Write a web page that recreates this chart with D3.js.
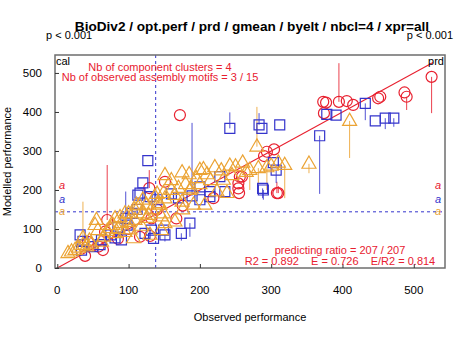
<!DOCTYPE html>
<html>
<head>
<meta charset="utf-8">
<script src="https://cdn.jsdelivr.net/npm/d3@7/dist/d3.min.js"></script>
<style>
  html, body { margin: 0; padding: 0; background: #fff; }
  svg { display: block; font-family: "Liberation Sans", Arial, Helvetica, sans-serif; }
  .pre { white-space: pre; }
</style>
</head>
<body>
<svg id="chart" width="474" height="338"></svg>
<script>
// ---- data: observed, modelled and end of the vertical segment per assembly ----
// cluster 1 (red circles)
const redObs = [525, 487, 490, 453, 450, 415, 406, 395, 373, 377, 374, 172, 294, 304, 290, 259, 308, 254, 255, 254, 256, 151, 219, 167, 129, 70, 130, 132, 43, 58, 39, 67, 116, 64, 310, 100, 85, 140, 176];
const redPrd = [490, 450, 439, 439, 435, 418, 428, 426, 426, 424, 397, 392, 298, 304, 287, 234, 192, 204, 192, 217, 234, 221, 179, 127, 205, 123, 82, 127, 67, 55, 31, 93, 80, 46, 192, 100, 75, 150, 160];
const redEnd = [397, 450, 405, 439, 435, 418, 428, 525, 426, 424, 397, 392, 298, 304, 287, 234, 221, 204, 192, 217, 234, 221, 179, 127, 251, 264, 82, 127, 67, 55, 31, 93, 80, 46, 210, 100, 75, 150, 160];

// cluster 2 (blue squares)
const blueObs = [432, 446, 460, 472, 378, 391, 368, 189, 242, 283, 287, 312, 303, 307, 288, 228, 200, 235, 214, 289, 214, 200, 186, 151, 174, 135, 127, 96, 116, 130, 149, 132, 90, 62, 34, 123, 120, 113, 81, 36, 32, 105, 112, 98, 85, 140, 160, 170, 60, 75, 50];
const bluePrd = [422, 377, 384, 384, 394, 392, 339, 185, 358, 367, 358, 367, 270, 251, 204, 234, 208, 196, 196, 200, 183, 175, 115, 85, 89, 76, 275, 127, 192, 183, 97, 97, 72, 72, 46, 89, 218, 187, 77, 68, 85, 140, 150, 110, 105, 175, 190, 180, 60, 85, 55];
const blueEnd = [379, 377, 356, 362, 394, 392, 190, 372, 399, 397, 358, 367, 270, 218, 179, 234, 208, 196, 196, 175, 183, 175, 80, 68, 70, 76, 275, 196, 192, 183, 97, 97, 72, 72, 46, 89, 218, 187, 77, 68, 85, 140, 150, 110, 105, 175, 190, 180, 60, 85, 55];

// cluster 3 (orange triangles)
const orangeObs = [410, 353, 280, 319, 270, 282, 294, 242, 221, 205, 200, 245, 233, 188, 186, 165, 224, 238, 191, 207, 149, 36, 53, 57, 109, 109, 90, 74, 81, 102, 107, 62, 36, 25, 15, 41, 128, 125, 142, 151, 151, 146, 151, 130, 81, 165, 149, 144, 146, 126, 111, 55, 137, 176, 95,
  20, 30, 45, 48, 65, 70, 78, 85, 95, 100, 118, 120, 100, 88, 115, 132, 160, 170, 175, 180, 195, 210, 215, 250, 260, 175, 160, 140, 120, 200, 185, 230, 265, 300, 310];
const orangePrd = [377, 267, 311, 264, 251, 256, 258, 262, 258, 253, 251, 238, 226, 204, 200, 187, 196, 192, 162, 162, 192, 77, 110, 97, 149, 123, 115, 102, 89, 99, 76, 67, 59, 46, 38, 55, 136, 162, 166, 178, 238, 132, 115, 85, 127, 119, 140, 162, 97, 128, 162, 123, 183, 150, 140,
  42, 52, 70, 62, 80, 95, 110, 100, 92, 118, 108, 140, 140, 130, 160, 150, 200, 205, 170, 215, 230, 240, 225, 260, 270, 245, 225, 190, 175, 215, 240, 250, 246, 262, 270];
const orangeEnd = [282, 243, 413, 179, 200, 200, 200, 262, 258, 253, 251, 238, 226, 204, 200, 187, 196, 192, 162, 162, 192, 170, 110, 97, 149, 123, 115, 102, 89, 99, 76, 67, 59, 46, 38, 55, 136, 162, 166, 178, 238, 132, 115, 85, 127, 119, 140, 162, 97, 128, 162, 123, 183, 150, 140,
  42, 52, 70, 62, 80, 95, 110, 100, 92, 118, 108, 140, 140, 130, 160, 150, 200, 205, 170, 215, 230, 240, 225, 260, 270, 245, 225, 190, 175, 215, 240, 250, 246, 262, 270];

// cluster letters, drawn at each cluster's level on both sides
const letterLevels = [213, 177, 146];
const letterText = ["a", "a", "a"];

const xTicks = [0, 100, 200, 300, 400, 500];
const yTicks = [0, 100, 200, 300, 400, 500];
const meanObs = 138;
const meanPrd = 144;

const titleText = "BioDiv2 / opt.perf / prd / gmean / byelt / nbcl=4 / xpr=all";
const topNotes = ["Nb of component clusters = 4", "Nb of observed assembly motifs = 3 / 15"];
const bottomNotes = ["predicting ratio = 207 / 207", "R2 = 0.892    E = 0.726    E/R2 = 0.814"];

// ---- drawing ----
const RED = "#e8202f", BLUE = "#3434cc", ORANGE = "#eba334";
const svg = d3.select("#chart");
const L = 55, R = 445, T = 55, B = 268;

const x = d3.scaleLinear().domain([-3.2, 543.8]).range([L, R]);
const y = d3.scaleLinear().domain([0, 546]).range([B, T]);

const zip = (o, p, e) => o.map((v, i) => ({ obs: v, prd: p[i], end: e[i] }));
const series = [
  { name: "c1", color: RED, shape: "circle", pts: zip(redObs, redPrd, redEnd) },
  { name: "c2", color: BLUE, shape: "square", pts: zip(blueObs, bluePrd, blueEnd) },
  { name: "c3", color: ORANGE, shape: "triangle", pts: zip(orangeObs, orangePrd, orangeEnd) }
];

// title and p-values
svg.append("text").attr("x", 252).attr("y", 31).attr("text-anchor", "middle")
  .attr("font-size", 13.6).attr("font-weight", "bold").text(titleText);
svg.append("text").attr("x", 46).attr("y", 39).attr("font-size", 11).text("p < 0.001");
svg.append("text").attr("x", 453).attr("y", 39).attr("text-anchor", "end").attr("font-size", 11).text("p < 0.001");

const plot = svg.append("g");
const clipId = "plotclip";
svg.append("clipPath").attr("id", clipId).append("rect")
  .attr("x", L).attr("y", T).attr("width", R - L).attr("height", B - T);
const inner = plot.append("g").attr("clip-path", `url(#${clipId})`);

// reference lines at the mean values
inner.append("line").attr("x1", L).attr("x2", R).attr("y1", y(meanPrd)).attr("y2", y(meanPrd))
  .attr("stroke", BLUE).attr("stroke-width", 1).attr("stroke-dasharray", "3,3");
inner.append("line").attr("x1", x(meanObs)).attr("x2", x(meanObs)).attr("y1", T).attr("y2", B)
  .attr("stroke", BLUE).attr("stroke-width", 1).attr("stroke-dasharray", "3,3");

// 1:1 line
inner.append("line").attr("x1", x(0)).attr("y1", y(0)).attr("x2", x(527)).attr("y2", y(527))
  .attr("stroke", RED).attr("stroke-width", 1.1);

// vertical segments
series.forEach(s => {
  inner.append("g").selectAll("line").data(s.pts.filter(d => d.end !== d.prd)).join("line")
    .attr("x1", d => x(d.obs)).attr("x2", d => x(d.obs))
    .attr("y1", d => y(d.prd)).attr("y2", d => y(d.end))
    .attr("stroke", s.color).attr("stroke-width", 1).attr("stroke-opacity", 0.85);
});

// markers
const triPath = "M0,-7.8L7,4.4L-7,4.4Z";
series.forEach(s => {
  const g = inner.append("g").attr("fill", "none").attr("stroke", s.color).attr("stroke-width", 1.2);
  const sel = g.selectAll("path").data(s.pts).join("path")
    .attr("transform", d => `translate(${x(d.obs)},${y(d.prd)})`);
  if (s.shape === "circle") sel.attr("d", d3.symbol(d3.symbolCircle, 95)());
  else if (s.shape === "square") sel.attr("d", "M-5,-5H5V5H-5Z");
  else sel.attr("d", triPath);
});

// cluster letters on both sides
const letterColors = [RED, BLUE, ORANGE];
letterLevels.forEach((v, i) => {
  [62, 438].forEach(px => {
    svg.append("text").attr("x", px).attr("y", y(v) + 4).attr("text-anchor", "middle")
      .attr("font-size", 11).attr("font-style", "italic").attr("fill", letterColors[i])
      .text(letterText[i]);
  });
});

// frame
svg.append("rect").attr("x", L).attr("y", T).attr("width", R - L).attr("height", B - T)
  .attr("fill", "none").attr("stroke", "#6e6e6e").attr("stroke-width", 1.5);

// inward ticks
const xAxis = d3.axisTop(x).tickValues(xTicks).tickSize(4).tickFormat("");
svg.append("g").attr("transform", `translate(0,${B})`).call(xAxis)
  .call(g => g.select(".domain").remove())
  .call(g => g.selectAll("line").attr("stroke", "#333"));
const yAxis = d3.axisRight(y).tickValues(yTicks).tickSize(4).tickFormat("");
svg.append("g").attr("transform", `translate(${L},0)`).call(yAxis)
  .call(g => g.select(".domain").remove())
  .call(g => g.selectAll("line").attr("stroke", "#333"));

// tick labels
svg.append("g").selectAll("text").data(xTicks).join("text")
  .attr("x", d => x(d)).attr("y", 294).attr("text-anchor", "middle")
  .attr("font-size", 11.5).text(d => d);
svg.append("g").selectAll("text").data(yTicks).join("text")
  .attr("x", 42).attr("y", d => y(d) + 4).attr("text-anchor", "end")
  .attr("font-size", 11.5).text(d => d);

// axis titles
svg.append("text").attr("x", (L + R) / 2).attr("y", 321).attr("text-anchor", "middle")
  .attr("font-size", 11).text("Observed performance");
svg.append("text").attr("transform", `translate(11,${(T + B) / 2}) rotate(-90)`)
  .attr("text-anchor", "middle").attr("font-size", 11).text("Modelled performance");

// corner labels
svg.append("text").attr("x", 56).attr("y", 65).attr("font-size", 11).text("cal");
svg.append("text").attr("x", 444).attr("y", 65).attr("text-anchor", "end").attr("font-size", 11).text("prd");

// notes
topNotes.forEach((t, i) => {
  svg.append("text").attr("x", 160).attr("y", 71 + i * 10).attr("text-anchor", "middle")
    .attr("font-size", 11).attr("fill", RED).text(t);
});
bottomNotes.forEach((t, i) => {
  svg.append("text").attr("class", "pre").attr("x", 340).attr("y", 254 + i * 11).attr("text-anchor", "middle")
    .attr("font-size", 11).attr("fill", RED).text(t);
});
</script>
</body>
</html>
